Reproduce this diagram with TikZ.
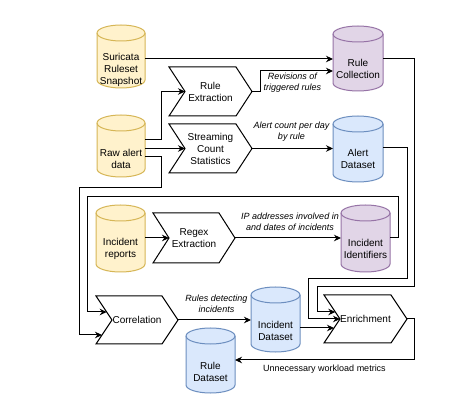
\documentclass[tikz,border=0pt]{standalone}
\usepackage{fontspec}
\setmainfont{Liberation Sans}
\usetikzlibrary{arrows.meta,calc}
\definecolor{ylwF}{HTML}{FFF2CC}\definecolor{ylwD}{HTML}{D6B656}
\definecolor{purF}{HTML}{E1D5E7}\definecolor{purD}{HTML}{9673A6}
\definecolor{bluF}{HTML}{DAE8FC}\definecolor{bluD}{HTML}{6C8EBF}
\tikzset{
  conn/.style={draw=black, line width=1pt, -{Stealth[length=7pt,width=6.5pt]}},
  wire/.style={draw=black, line width=1pt},
  lbl/.style={font=\fontsize{10}{12}\selectfont, align=center, inner sep=0pt},
  elbl/.style={font=\fontsize{9}{11}\selectfont\itshape, align=center, inner sep=0pt},
  plbl/.style={font=\fontsize{9}{11}\selectfont, align=center, inner sep=0pt},
  hold/.style={draw=none, inner sep=0pt, outer sep=0pt, rectangle},
  procline/.style={draw=black, line width=1pt, fill=white},
}
% cylinder: name, cx, cy, w, h, rx, colour prefix, text y, text
\newcommand\dbcyl[9]{%
  \node[hold, minimum width=#4pt, minimum height=#5pt] (#1) at (#2,#3) {};
  \path[fill=#7F, draw=#7D, line width=1pt]
    ([yshift=-8pt]#1.north west) -- ([yshift=8pt]#1.south west)
    arc[start angle=180, end angle=360, x radius=#6pt, y radius=8pt]
    -- ([yshift=-8pt]#1.north east)
    arc[start angle=0, end angle=180, x radius=#6pt, y radius=8pt] -- cycle;
  \draw[draw=#7D, line width=1pt] ([yshift=-8pt]#1.north west)
    arc[start angle=180, end angle=360, x radius=#6pt, y radius=8pt];
  \node[lbl] (#1-t) at (#2,#8) {#9};
}
% chevron: name, cx, cy, w, h, text
\newcommand\proc[6]{%
  \node[hold, minimum width=#4pt, minimum height=#5pt] (#1) at (#2,#3) {};
  \draw[procline] (#1.north west) -- ([xshift=-16pt]#1.north east) -- (#1.east)
    -- ([xshift=-16pt]#1.south east) -- (#1.south west) -- ([xshift=16pt]#1.west) -- cycle;
  \node[lbl] (#1-t) at (#1) {#6};
  \coordinate (#1-in) at ([xshift=16pt]#1.west);
}
\begin{document}
\begin{tikzpicture}[x=1pt,y=-1pt]
\useasboundingbox (0,0) rectangle (474,403);
\fill[white] (0,0) rectangle (474,403);
% cylinders
\dbcyl{Sur}{121}{56.5}{48}{63}{24}{ylw}{69.5}{Suricata\\Ruleset\\Snapshot}
\dbcyl{Raw}{121}{146}{48}{62}{24}{ylw}{159}{Raw alert\\data}
\dbcyl{RC}{358}{58.5}{50}{65}{25}{pur}{69}{Rule\\Collection}
\dbcyl{AD}{358}{149}{50}{66}{25}{blu}{159}{Alert\\Dataset}
\dbcyl{IR}{120.5}{238.5}{49}{67}{24.5}{ylw}{249}{Incident\\reports}
\dbcyl{II}{365.5}{238.5}{49}{67}{24.5}{pur}{249}{Incident\\Identifiers}
\dbcyl{ID}{275.5}{319.5}{49}{65}{24.5}{blu}{331}{Incident\\Dataset}
\dbcyl{RD}{210.5}{360.5}{49}{65}{24.5}{blu}{371.5}{Rule\\Dataset}
% processes
\proc{RE}{210.5}{91.5}{83}{49}{Rule\\Extraction}
\proc{ST}{210.5}{148.5}{83}{49}{Streaming\\Count\\Statistics}
\proc{RX}{194}{238}{82}{50}{Regex\\Extraction}
\proc{Corr}{137}{320}{82}{48}{Correlation}
\proc{Enr}{365.5}{319}{83}{48}{Enrichment}
% connectors
\draw[conn] (Sur.east |- 0,59) -- (RC.west |- 0,59);
\draw[conn] (RE.east) -- ++(8,0) |- (RC.west |- 0,71);
\draw[conn] (Raw.east |- 0,140) -- (161,140) |- (RE-in);
\draw[conn] (Raw.east |- ST-in) -- (ST-in);
\draw[conn] (Raw.east |- 0,157) -- (161,157) -- (161,188) -- (79,188) -- (79,335)
  -- ([xshift=6pt,yshift=-15pt]Corr.west);
\draw[conn] (II.east |- 0,238) -- (398,238) -- (398,197) -- (87,197) -- (87,312)
  -- ([xshift=10.7pt,yshift=8pt]Corr.west);
\draw[conn] (IR.east |- RX-in) -- (RX-in);
\draw[conn] (RX.east) -- (II.west |- RX.east);
\draw[conn] (ST.east) -- (AD.west |- ST.east);
\draw[conn] (Corr.east) -- (ID.west |- Corr.east);
\draw[conn] (RC.east |- 0,59) -- (414,59) -- (414,287) -- (317,287) -- (317,312)
  -- ([xshift=11.3pt,yshift=7pt]Enr.west);
\draw[conn] (AD.east |- 0,148) -- (407,148) -- (407,279) -- (308,279) -- (308,319)
  -- (Enr-in);
\draw[conn] (ID.east |- 0,328) -- ([xshift=10pt,yshift=-9pt]Enr.west);
\draw[conn] (Enr.east) -- (414,319) -- (414,360) -- (RD.east |- 0,360);
% edge labels
\node[elbl] (l1) at (292.5,83) {Revisions of\\triggered rules};
\node[elbl] (l2) at (291.5,132) {Alert count per day\\by rule};
\node[elbl] (l3) at (290,222) {IP addresses involved in\\and dates of incidents};
\node[elbl] (l4) at (216.5,304) {Rules detecting\\incidents};
\node[plbl] (l5) at (324.5,369.5) {Unnecessary workload metrics};
\end{tikzpicture}
\end{document}
